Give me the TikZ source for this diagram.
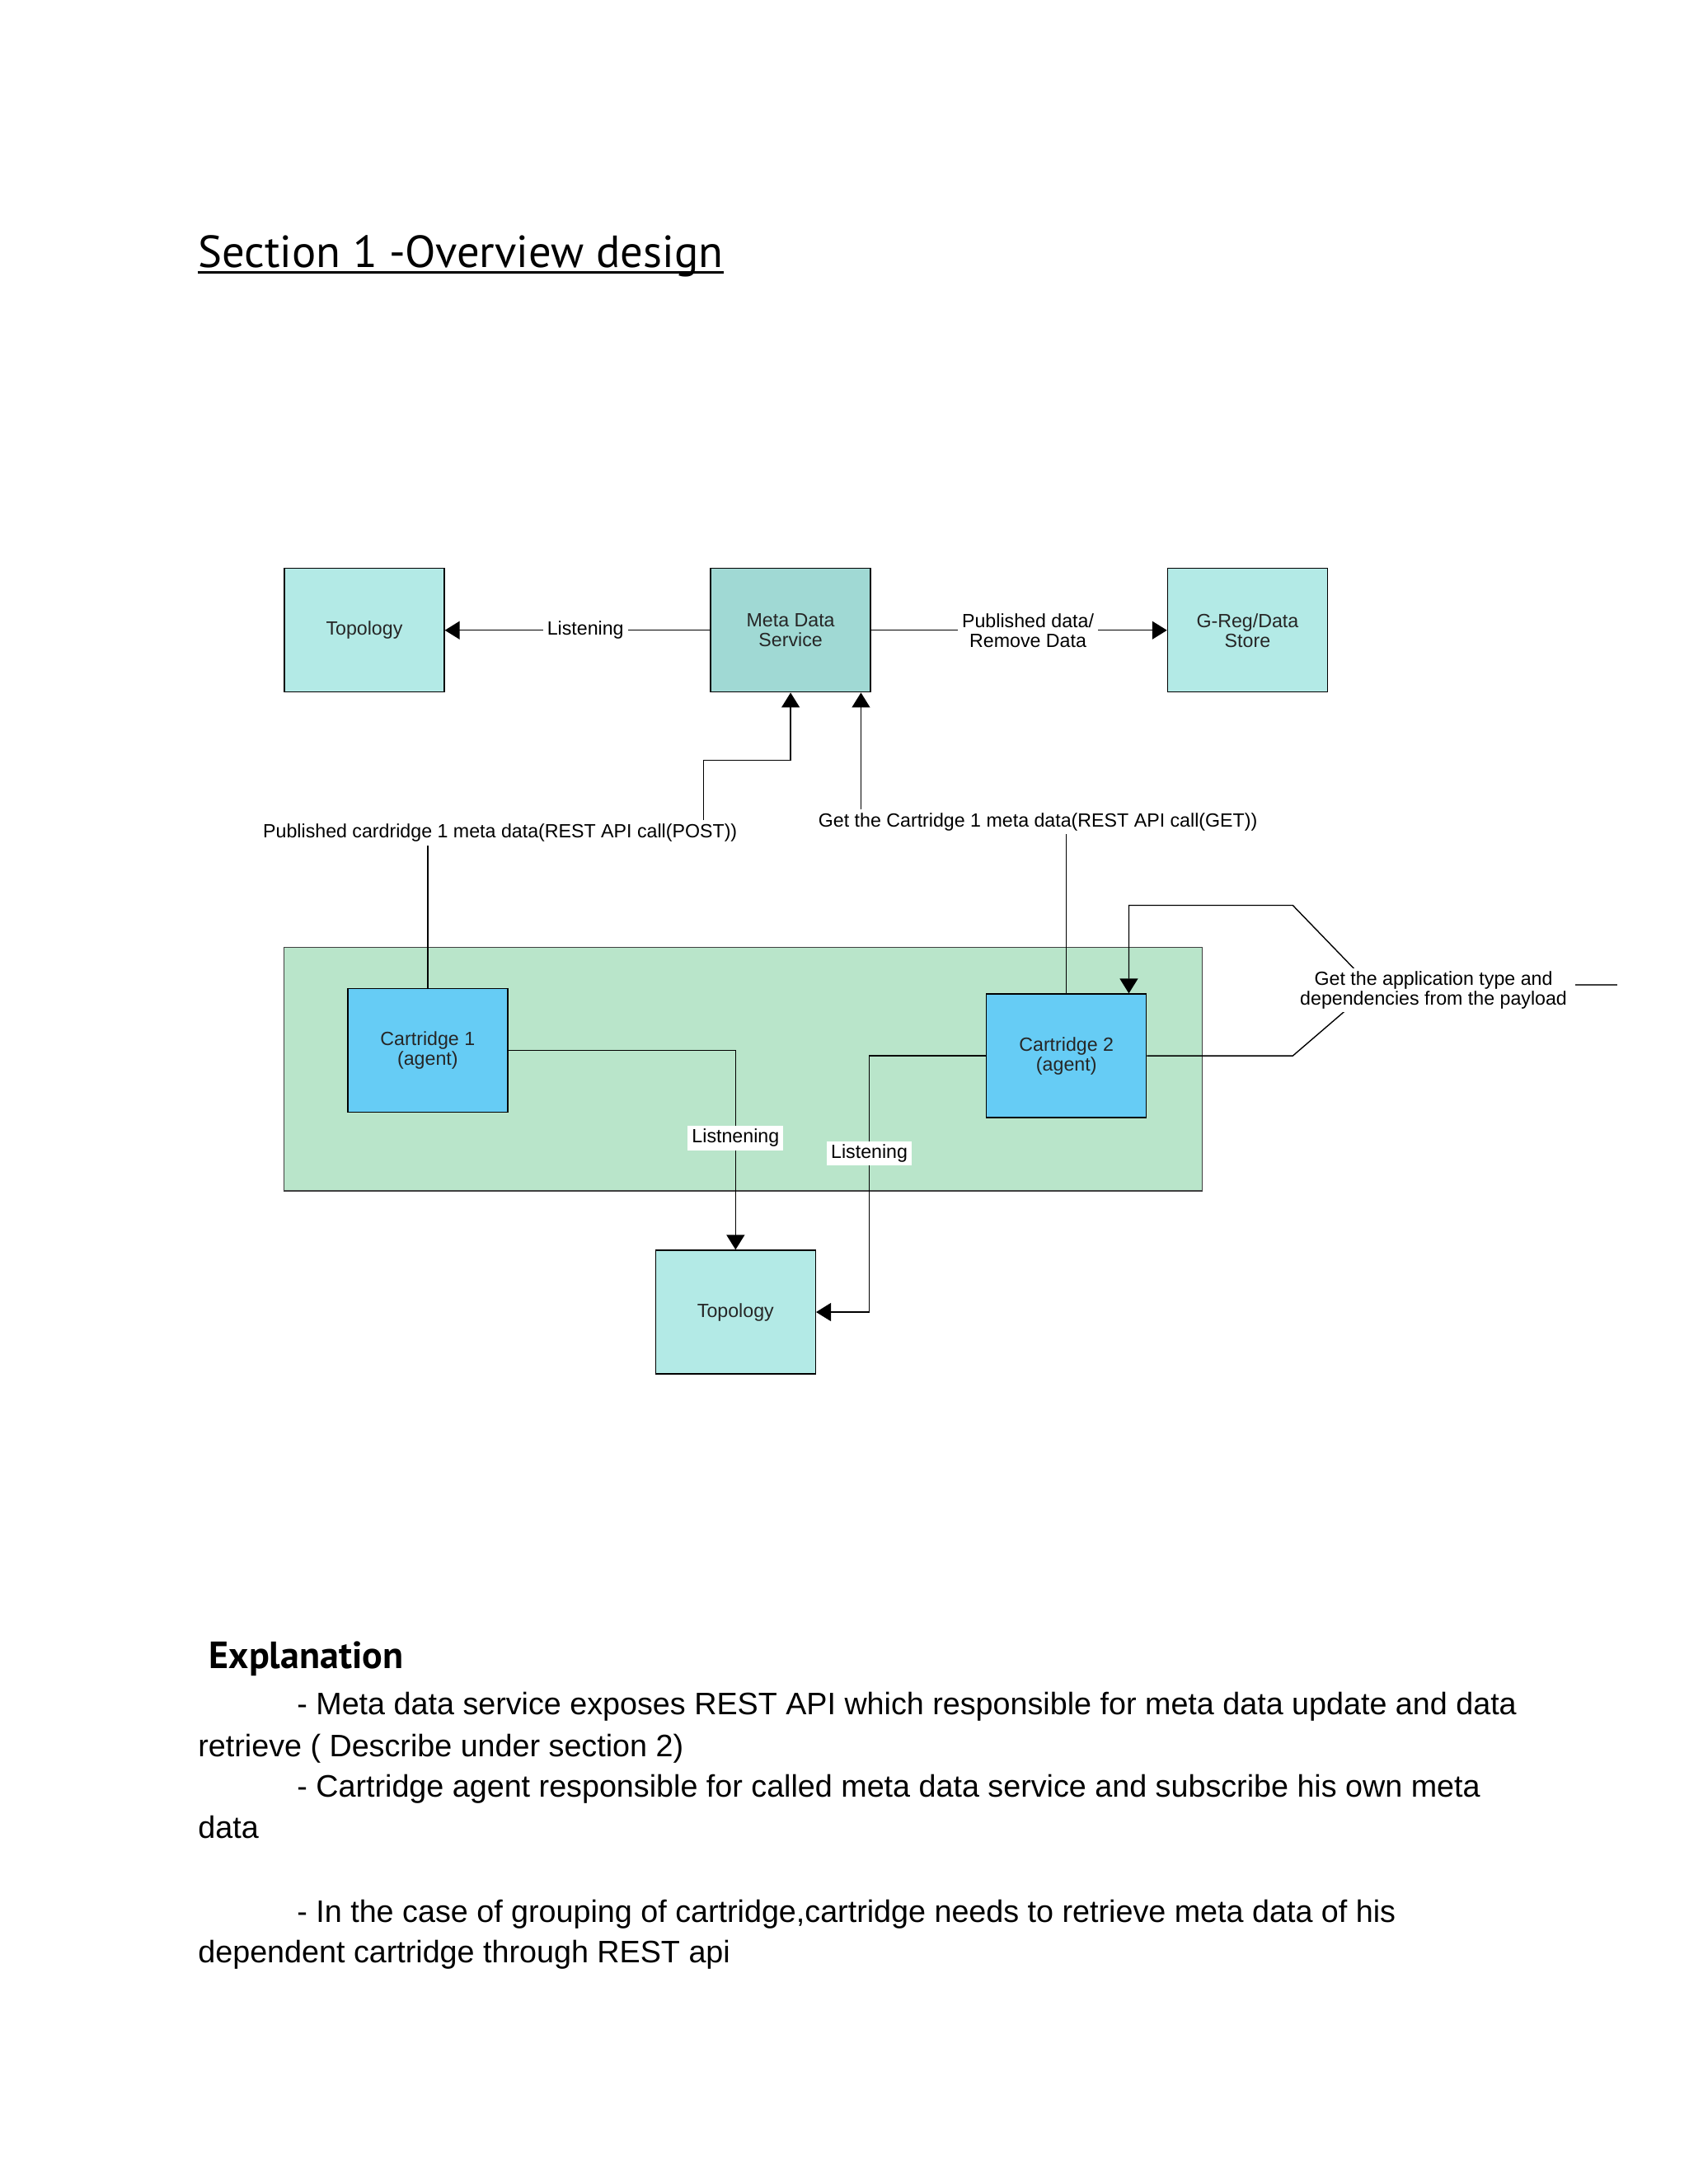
\documentclass[tikz,border=0pt]{standalone}
\usepackage{fontspec}
\setmainfont{Liberation Sans}
\newfontfamily\headfont{PT Sans}
\usepackage{xcolor}
\usepackage{tikz}
\usetikzlibrary{arrows.meta, positioning}

\definecolor{topofill}{HTML}{B3EAE6}
\definecolor{mdsfill}{HTML}{A0D9D4}
\definecolor{groupfill}{HTML}{B9E5CA}
\definecolor{cartfill}{HTML}{66CCF5}

\tikzset{
    box/.style={draw, line width=0.7pt, minimum width=97pt, minimum height=75pt, inner sep=0pt,
        align=center, text=black!85, font=\fontsize{11.6}{12}\selectfont},
    lbl/.style={fill=white, inner xsep=2.5pt, inner ysep=2pt, align=center,
        font=\fontsize{11.6}{12}\selectfont},
    arr/.style={-{Triangle[length=9pt, width=11pt]}, line width=0.7pt},
    txt/.style={anchor=base west, inner sep=0pt, font=\fontsize{18.85}{22}\selectfont},
}

\begin{document}
\begin{tikzpicture}[x=0.845pt, y=-0.845pt]
    \useasboundingbox[fill=white] (0,0) rectangle (1212,1568);

    % 1. Tieu de
    \node[anchor=base west, inner sep=0pt, font=\headfont\fontsize{27.3}{30}\selectfont] (title) at (142,192) {Section 1 -Overview design};
    \draw[line width=1.4pt] ([yshift=-3pt]title.base west) -- ([yshift=-3pt]title.base east);

    % 2. Hang tren: Topology, Meta Data Service, G-Reg
    \node[box, fill=topofill] (topo1) at (261.5,452.5) {Topology};
    \node[box, fill=mdsfill] (mds) at (567.5,452.5) {Meta Data\\Service};
    \node[box, fill=topofill] (greg) at (895.5,452.5) {G-Reg/Data\\Store};

    \draw[arr] (mds.west) -- node[lbl, pos=0.47] {Listening} (topo1.east);
    \draw[arr] (mds.east) -- node[lbl, pos=0.53] {Published data/\\Remove Data} (greg.west);

    % 3. Nhom cartridge
    \draw[fill=groupfill, draw=black!75, line width=0.7pt] (204,680) rectangle (863,855);
    \node[box, fill=cartfill] (cart1) at (307,754) {Cartridge 1\\(agent)};
    \node[box, fill=cartfill] (cart2) at (765.5,758) {Cartridge 2\\(agent)};
    \node[box, fill=topofill] (topo2) at (528,942) {Topology};

    % 4. Goi REST API
    \node[lbl] (postlbl) at (359,598) {Published cardridge 1 meta data(REST API call(POST))};
    \coordinate (postbend) at (505,546);
    \draw[line width=0.7pt] (cart1.north) -- (cart1.north |- postlbl.south);
    \draw[arr] (postlbl.north -| postbend) -- (postbend) -| (mds.south);

    \node[lbl] (getlbl) at (745,590) {Get the Cartridge 1 meta data(REST API call(GET))};
    \coordinate (getup) at (618,540);
    \draw[line width=0.7pt] (cart2.north) -- (cart2.north |- getlbl.south);
    \draw[arr] (getlbl.north -| getup) -- (getup |- mds.south);

    % 5. Listening trong nhom
    \draw[arr] (cart1.east) -| node[lbl, pos=0.72] {Listnening} (topo2.north);
    \coordinate (lsn) at (624,828);
    \draw[arr] (cart2.west) -| (lsn) node[lbl] {Listening} |- (topo2.east);

    % 6. Vong lap cua Cartridge 2
    \coordinate (loopa) at (928,758);
    \coordinate (loopb) at (985,709);
    \coordinate (loopc) at (928,650);
    \draw[arr] (cart2.east) -- (loopa) -- (loopb) -- (loopc) -| ([xshift=-11pt]cart2.north east);
    \node[lbl] (paylbl) at (1029,711) {Get the application type and\\dependencies from the payload};
    \draw[black!75, line width=0.9pt] (1131,707) -- (1161,707);

    % 7. Giai thich
    \node[anchor=base west, inner sep=0pt, font=\headfont\bfseries\fontsize{23}{25}\selectfont] (expl) at (150,1198) {Explanation};
    \node[txt] (l1) at (213,1231) {- Meta data service exposes REST API which responsible for meta data update and data};
    \node[txt] (l2) at (142,1261) {retrieve ( Describe under section 2)};
    \node[txt] (l3) at (213,1290) {- Cartridge agent responsible for called meta data service and subscribe his own meta};
    \node[txt] (l4) at (142,1320) {data};
    \node[txt] (l5) at (213,1380) {- In the case of grouping of cartridge,cartridge needs to retrieve meta data of his};
    \node[txt] (l6) at (142,1409) {dependent cartridge through REST api};
\end{tikzpicture}
\end{document}
